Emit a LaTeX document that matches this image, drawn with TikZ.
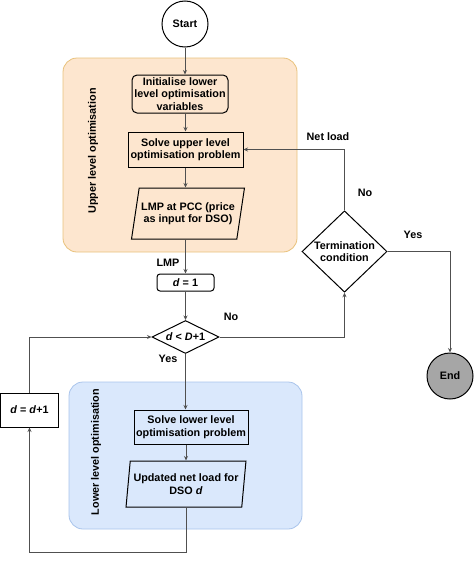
\documentclass[tikz,border=0pt]{standalone}
\usepackage{fontspec}
\setmainfont{Liberation Sans}
\usetikzlibrary{arrows.meta}
\usetikzlibrary{shapes.geometric}

\definecolor{upfill}{HTML}{FDE6CF}
\definecolor{upline}{HTML}{E9C27C}
\definecolor{lowfill}{HTML}{DAE8FC}
\definecolor{lowline}{HTML}{A9C4EB}
\definecolor{endfill}{HTML}{A6A6A6}
\definecolor{flowline}{HTML}{505050}

\begin{document}
\begin{tikzpicture}[x=1pt,y=1pt,
	txt/.style={font=\bfseries\fontsize{10.8}{12.5}\selectfont, align=center},
	process/.style={txt, draw, line width=1pt, inner sep=1pt},
	terminal/.style={txt, circle, draw, line width=1pt, minimum size=46pt, inner sep=0pt},
	decision/.style={txt, diamond, draw, line width=1pt, inner sep=0pt},
	datanode/.style={txt, trapezium, draw, line width=1pt, trapezium stretches=true, inner sep=0pt},
	flow/.style={flowline, line width=0.8pt, -{Stealth[length=4.5pt,width=4pt]}},
	region/.style={rounded corners=14pt, line width=0.8pt}]
	\useasboundingbox (0,0) rectangle (474,-570);

	%Upper level region
	\draw [region, fill=upfill, draw=upline] (63,-58) rectangle (297,-252);
	\node [txt, rotate=90] (uplabel) at (93,-151) {Upper level optimisation};
	%Lower level region
	\draw [region, fill=lowfill, draw=lowline] (69,-382) rectangle (302,-529);
	\node [txt, rotate=90] (lowlabel) at (96,-452) {Lower level optimisation};

	%Start and initialisation
	\node [terminal] (start) at (185,-24) {Start};
	\node [process, rounded corners=5pt, minimum width=96pt, minimum height=38pt]
	(init) at (180,-94) {Initialise lower\\level optimisation\\variables};
	%Upper level problem
	\node [process, minimum width=115pt, minimum height=35pt]
	(solveup) at (185.5,-149.5) {Solve upper level\\optimisation problem};
	\node [datanode, trapezium left angle=72, trapezium right angle=108,
	minimum width=113pt, minimum height=51pt]
	(lmp) at (188,-213.5) {LMP at PCC (price\\as input for DSO)};

	%Counter and check
	\node [process, rounded corners=3pt, minimum width=57pt, minimum height=17pt]
	(dinit) at (185.5,-282.5) {\textit{d} = 1};
	\node [decision, aspect=2, minimum width=67pt, minimum height=33pt]
	(dcheck) at (185.5,-337) {\textit{d} < \textit{D}+1};
	\node [process, minimum width=58pt, minimum height=34pt]
	(dnext) at (29.5,-410) {\textit{d} = \textit{d}+1};

	%Termination and end
	\node [decision, aspect=1, minimum width=85pt, minimum height=81pt]
	(term) at (344.5,-251.5) {Termination\\condition};
	\node [terminal, fill=endfill] (end) at (450,-376) {End};

	%Lower level problem
	\node [process, minimum width=114pt, minimum height=34pt]
	(solvelow) at (191,-427) {Solve lower level\\optimisation problem};
	\node [datanode, trapezium left angle=79, trapezium right angle=101,
	minimum width=120pt, minimum height=46pt]
	(updated) at (186,-484) {Updated net load for\\DSO \textit{d}};

	%Connections
	\draw [flow] (start.south) -- (start.south |- init.north);
	\draw [flow] (solveup.north |- init.south) -- (solveup.north);
	\draw [flow] (solveup.south) -- (solveup.south |- lmp.north);
	\draw [flow] (dinit.north |- lmp.south) -- (dinit.north);
	\draw [flow] (dinit) -- (dcheck);
	\draw [flow] (dcheck.south) -- (dcheck.south |- solvelow.north);
	\draw [flow] (updated.north |- solvelow.south) -- (updated.north);
	\draw [flow] (updated.south) -- ++(0,-45) -| (dnext.south);
	\draw [flow] (dnext.north) |- (dcheck.west);
	\draw [flow] (dcheck.east) -| (term.south);
	\draw [flow] (term.north) |- (solveup.east);
	\draw [flow] (term.east) -| (end.north);

	%Labels of the connections
	\node [txt] (lmplabel) at (168,-263) {LMP};
	\node [txt] (yeslow) at (168,-359) {Yes};
	\node [txt] (nocheck) at (231,-317) {No};
	\node [txt] (netload) at (328,-137) {Net load};
	\node [txt] (noterm) at (365,-193) {No};
	\node [txt] (yesterm) at (413,-235) {Yes};
\end{tikzpicture}
\end{document}
